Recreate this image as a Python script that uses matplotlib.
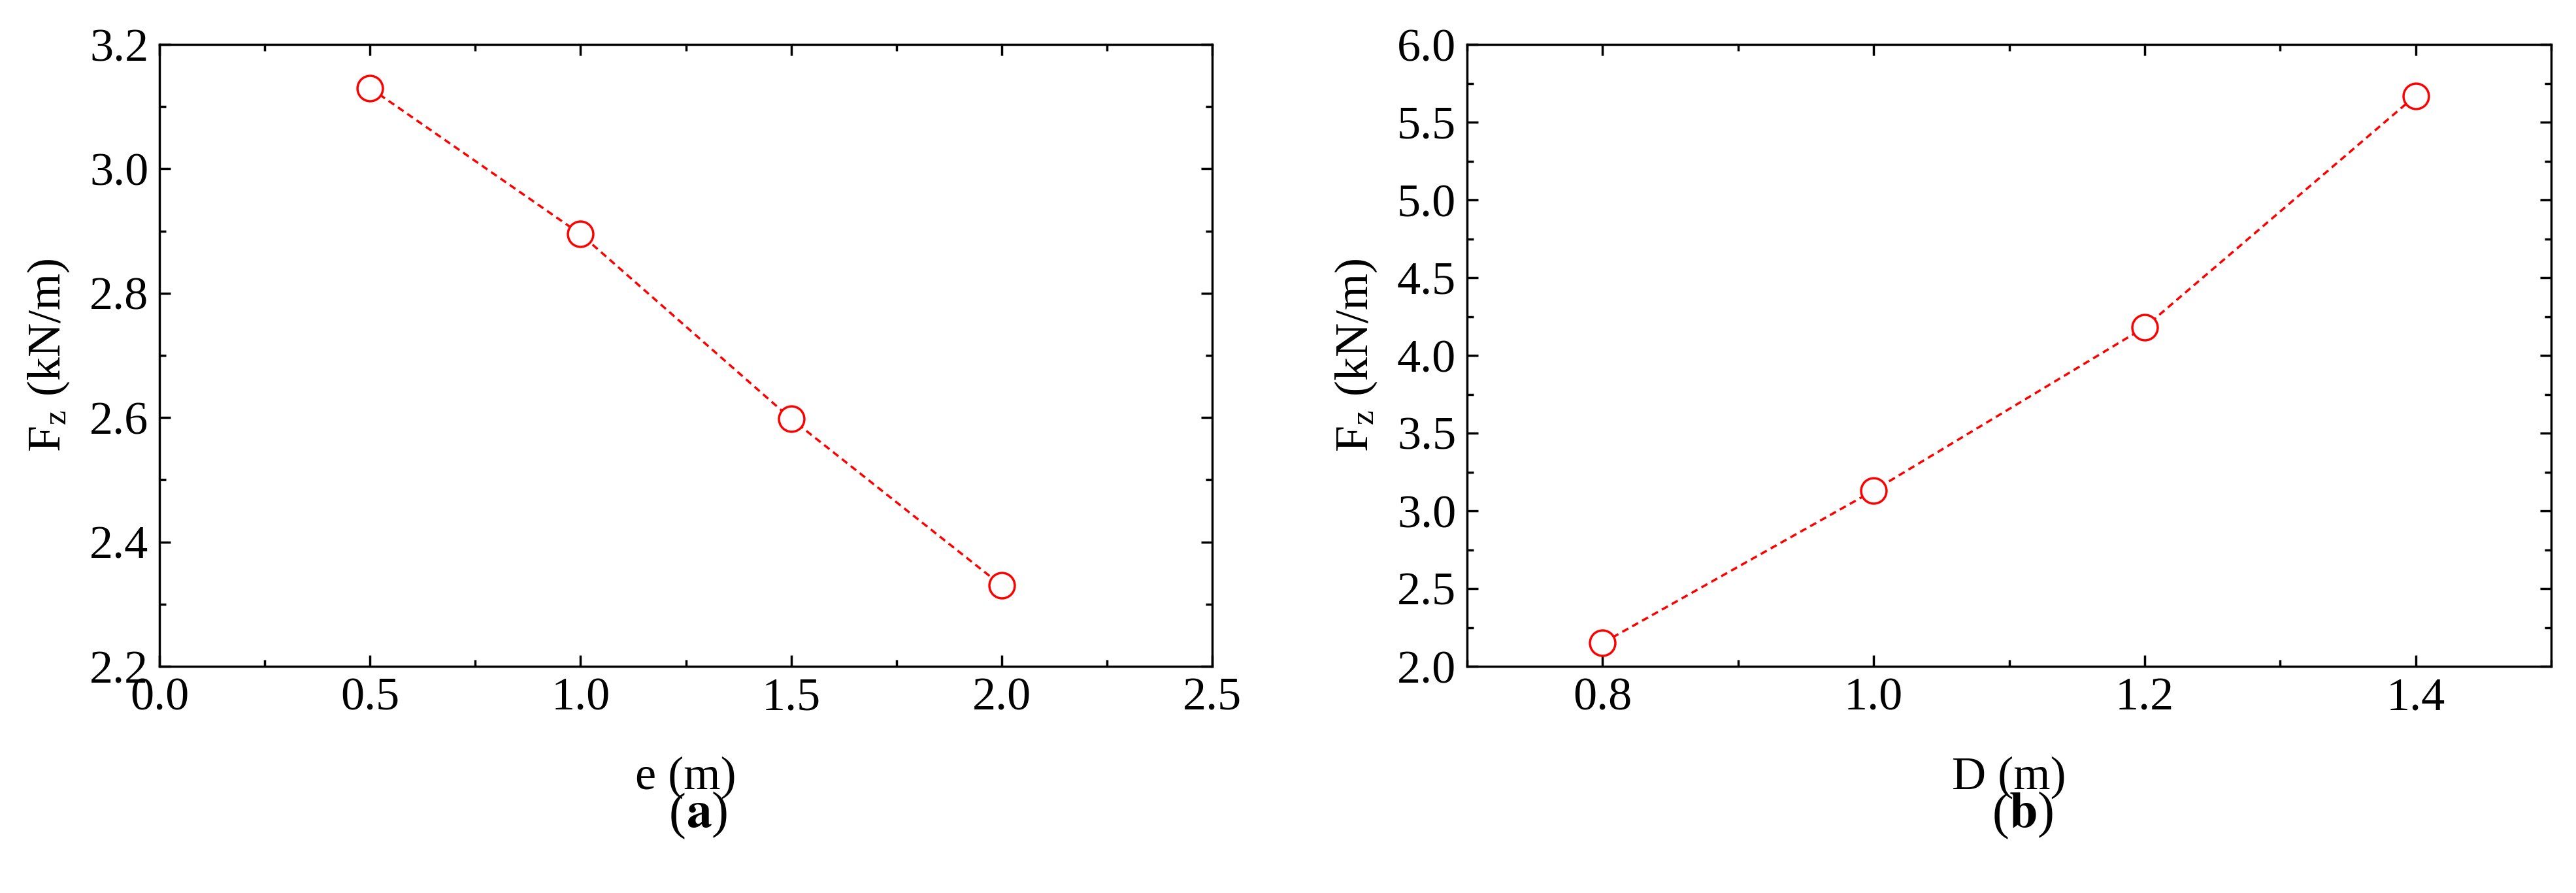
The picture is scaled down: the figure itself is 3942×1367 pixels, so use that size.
import matplotlib
matplotlib.use("Agg")
import matplotlib.pyplot as plt
from matplotlib.ticker import MultipleLocator, AutoMinorLocator

plt.rcParams['font.family'] = ['Liberation Serif', 'DejaVu Serif']
plt.rcParams['mathtext.fontset'] = 'stix'

e_vals = [0.5, 1.0, 1.5, 2.0]
fz_e = [3.13, 2.895, 2.598, 2.33]
d_vals = [0.8, 1.0, 1.2, 1.4]
fz_d = [2.15, 3.13, 4.18, 5.67]

fig = plt.figure(figsize=(39.42, 13.67), dpi=100)
ax1 = fig.add_axes([244/3942, 1 - 1020/1367, (1855-244)/3942, (1020-68)/1367])
ax2 = fig.add_axes([2245/3942, 1 - 1020/1367, (3904-2245)/3942, (1020-68)/1367])

fs = 52
for ax, x, y in [(ax1, e_vals, fz_e), (ax2, d_vals, fz_d)]:
    ax.plot(x, y, linestyle=(0, (3, 2)), color='red', lw=2.5, marker='o', ms=28,
            mfc='white', mec='red', mew=2.5)
    ax.tick_params(which='both', direction='in', top=True, right=True, labelsize=fs, width=2.5)
    ax.tick_params(which='major', length=12, pad=12)
    ax.tick_params(which='minor', length=7)
    ax.xaxis.set_minor_locator(AutoMinorLocator(2))
    ax.yaxis.set_minor_locator(AutoMinorLocator(2))
    for s in ax.spines.values():
        s.set_linewidth(2.5)
    ax.set_ylabel('F$_\\mathregular{z}$ (kN/m)', fontsize=fs, labelpad=20)

ax1.set_xlim(0, 2.5); ax1.set_ylim(2.2, 3.2)
ax1.xaxis.set_major_locator(MultipleLocator(0.5))
ax1.yaxis.set_major_locator(MultipleLocator(0.2))
ax1.xaxis.set_major_formatter(matplotlib.ticker.FormatStrFormatter('%.1f'))
ax1.set_xlabel('e (m)', fontsize=fs, labelpad=40)

ax2.set_xlim(0.7, 1.5); ax2.set_ylim(2.0, 6.0)
ax2.set_xticks([0.8, 1.0, 1.2, 1.4])
ax2.xaxis.set_minor_locator(MultipleLocator(0.1))
ax2.yaxis.set_major_locator(MultipleLocator(0.5))
ax2.yaxis.set_major_formatter(matplotlib.ticker.FormatStrFormatter('%.1f'))
ax2.set_xlabel('D (m)', fontsize=fs, labelpad=40)

yl = 0.06
for cx, lab in [((244+1855)/2/3942, 'a'), ((2245+3904)/2/3942, 'b')]:
    fig.text(cx, yl, '(', fontsize=fs + 4, ha='right', va='bottom')
    fig.text(cx, yl, r'$\mathbf{%s}$)' % lab, fontsize=fs + 4, ha='left', va='bottom')

fig.savefig('out.png', dpi=100)
